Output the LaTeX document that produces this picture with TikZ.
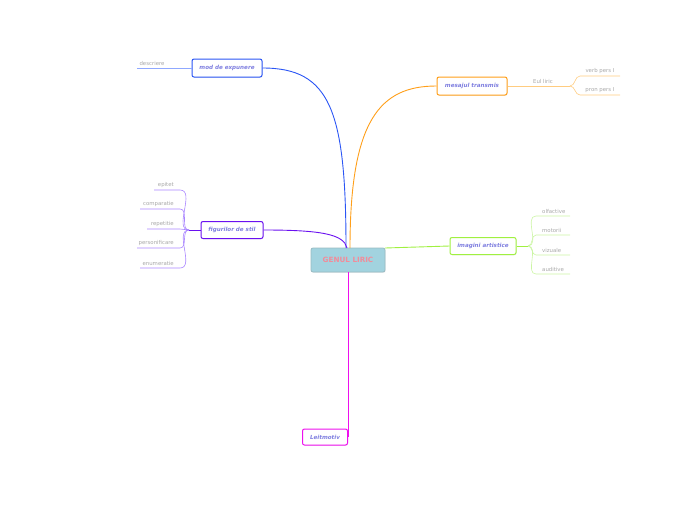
\documentclass[tikz,border=0pt]{standalone}
\usepackage{fontspec}
\setmainfont{DejaVu Sans}
\usetikzlibrary{shadows}
\definecolor{cblue}{HTML}{2A55F5}
\definecolor{lblue}{HTML}{8FA8FF}
\definecolor{corange}{HTML}{FF9F1A}
\definecolor{lorange}{HTML}{FFCC80}
\definecolor{cpurple}{HTML}{6A10F0}
\definecolor{lpurple}{HTML}{A985FF}
\definecolor{cgreen}{HTML}{A0F040}
\definecolor{lgreen}{HTML}{CCF5A5}
\definecolor{cmagenta}{HTML}{EE10EE}
\definecolor{topictext}{HTML}{7F7FE0}
\definecolor{leaftext}{HTML}{A8A8A8}
\definecolor{centerfill}{HTML}{A2D3DF}
\definecolor{centertext}{HTML}{F28C9A}
\begin{document}
\begin{tikzpicture}[x=1pt,y=-1pt,
	topic/.style={draw, line width=1pt, rounded corners=2pt, fill=white, text=topictext,
		font=\fontsize{5.6}{6}\selectfont\bfseries\itshape, inner sep=0pt,
		drop shadow={opacity=0.12, shadow xshift=0.6pt, shadow yshift=-0.8pt}},
	leaf/.style={text=leaftext, font=\fontsize{5.4}{6}\selectfont, inner sep=0pt, anchor=south}]
	\useasboundingbox (0,0) rectangle (697,520);

	% centre
	\node[draw=centerfill!70!gray, line width=0.8pt, rounded corners=2pt, fill=centerfill,
		text=centertext, font=\fontsize{7.2}{8}\selectfont\bfseries,
		minimum width=74pt, minimum height=24pt,
		drop shadow={opacity=0.15, shadow xshift=0.6pt, shadow yshift=-0.8pt}] (genul) at (348,260) {GENUL LIRIC};

	% main topics
	\node[topic, draw=cblue, minimum width=70pt, minimum height=18pt] (mod) at (227,68) {mod de expunere};
	\node[topic, draw=corange, minimum width=70pt, minimum height=18pt] (mesaj) at (472,86) {mesajul transmis};
	\node[topic, draw=cpurple, minimum width=62pt, minimum height=17pt] (figuri) at (232,230) {figurilor de stil};
	\node[topic, draw=cgreen, minimum width=66pt, minimum height=17pt] (imagini) at (483,246) {imagini artistice};
	\node[topic, draw=cmagenta, minimum width=45pt, minimum height=16pt] (leit) at (325,437) {Leitmotiv};

	\draw[cblue, line width=0.9pt] (346,248) .. controls (346,110) and (330,68) .. (mod.east);
	\draw[corange, line width=0.9pt] (350,248) .. controls (350,120) and (380,86) .. (mesaj.west);
	\draw[cpurple, line width=0.9pt] (figuri.east) .. controls (320,230) and (344,234) .. (347,248);
	\draw[cgreen, line width=0.9pt] (385,248) -- (imagini.west);
	\draw[cmagenta, line width=0.9pt] (348,272) -- (leit.east);

	% mod de expunere
	\coordinate (descL) at (137,68);
	\node[leaf] (desc) at (152,66) {descriere};
	\draw[lblue, line width=0.6pt] (mod.west) -- (descL);

	% mesajul transmis
	\coordinate (eulR) at (570,86);
	\node[leaf] (eul) at (543,84) {Eul liric};
	\draw[lorange, line width=0.6pt] (mesaj.east) -- (eulR);
	\foreach \name/\txt/\y in {verb/verb pers I/76, pron/pron pers I/95}{
		\coordinate (\name R) at (580,\y);
		\coordinate (\name L) at (620,\y);
		\node[leaf] (\name) at (600,\y-2) {\txt};
		\draw[lorange, line width=0.6pt] (eulR) to[out=0,in=180] (\name R) -- (\name L);
	}

	% figurilor de stil
	\coordinate (figJ) at (189,230);
	\draw[cpurple, line width=0.9pt] (figuri.west) -- (figJ);
	\foreach \name/\txt/\y/\xl in {epitet/epitet/190/154, comp/comparatie/209/140, rep/repetitie/229/147, pers/personificare/248/137, enum/enumeratie/268/140}{
		\coordinate (\name R) at (180,\y);
		\coordinate (\name L) at (\xl,\y);
		\node[leaf, anchor=south east] (\name) at (174,\y-2) {\txt};
		\draw[lpurple, line width=0.6pt] (figJ) to[out=180,in=0] (\name R) -- (\name L);
	}

	% imagini artistice
	\coordinate (imgJ) at (528,246);
	\draw[cgreen, line width=0.9pt] (imagini.east) -- (imgJ);
	\foreach \name/\txt/\y in {olf/olfactive/216, mot/motorii/235, viz/vizuale/255, aud/auditive/274}{
		\coordinate (\name L) at (536,\y);
		\coordinate (\name R) at (570,\y);
		\node[leaf, anchor=south west] (\name) at (542,\y-2) {\txt};
		\draw[lgreen, line width=0.6pt] (imgJ) to[out=0,in=180] (\name L) -- (\name R);
	}
\end{tikzpicture}
\end{document}
